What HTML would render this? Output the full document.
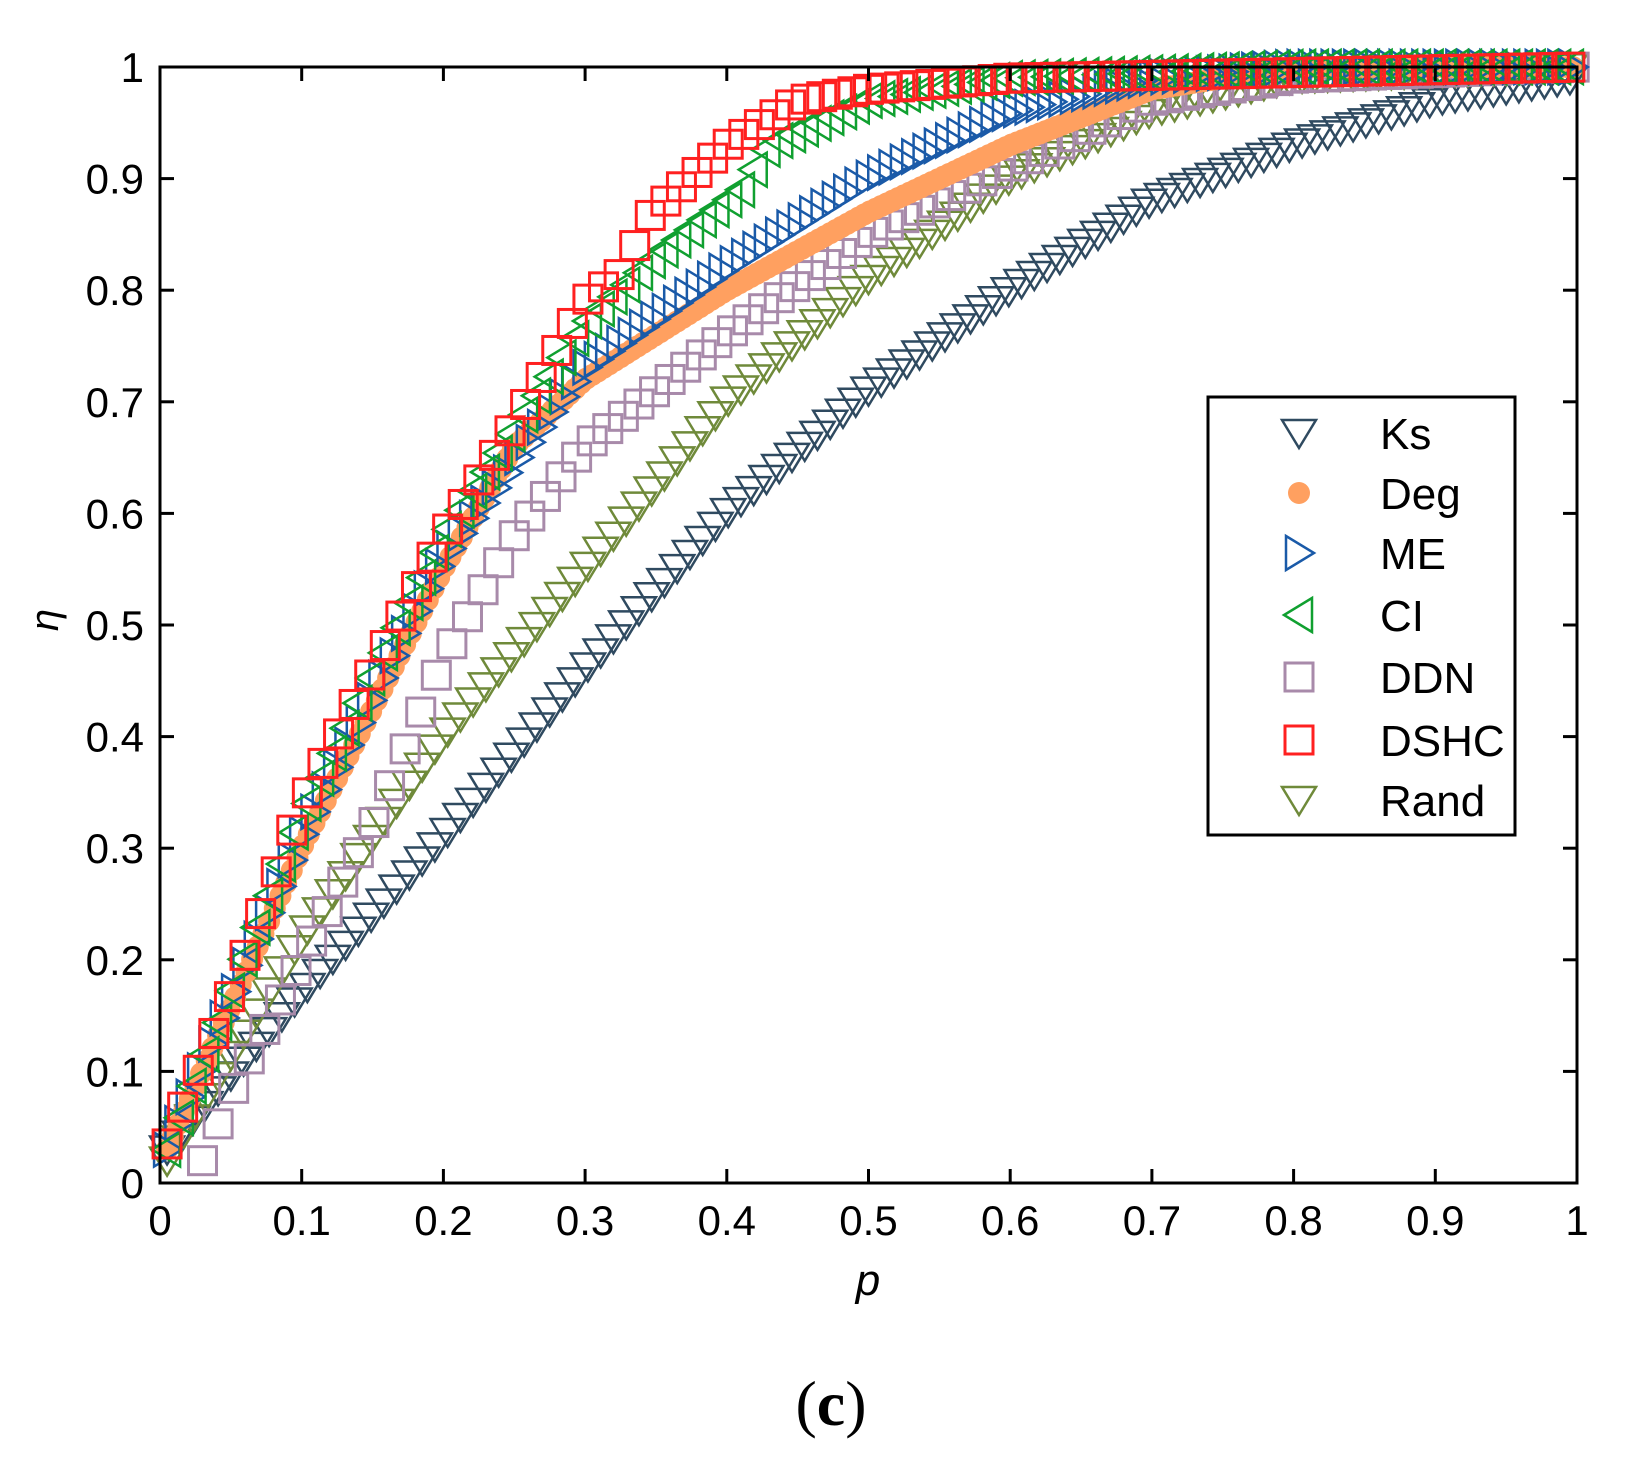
<!DOCTYPE html>
<html><head><meta charset="utf-8"><style>
html,body{margin:0;padding:0;background:#fff;}
svg{display:block;}
</style></head><body>
<svg id="s" width="1630" height="1462" xmlns="http://www.w3.org/2000/svg" font-family="Liberation Sans, Arial, sans-serif">
<rect width="1630" height="1462" fill="#fff"/>
<g id="data"></g>
<rect x="160" y="67" width="1417" height="1116" fill="none" stroke="#000" stroke-width="3"/>
<g id="ticks" stroke="#000" stroke-width="3"></g>
<g id="labels" font-size="42" fill="#000"></g>
<text x="868" y="1295" font-size="44" font-style="italic" text-anchor="middle">p</text>
<text x="0" y="0" font-size="40" font-style="italic" text-anchor="middle" transform="translate(58,620) rotate(-90)">η</text>
<text x="831" y="1425" font-size="64" style="font-family:'Liberation Serif',serif" text-anchor="middle">(<tspan font-weight="bold">c</tspan>)</text>
<rect x="1208" y="397" width="307" height="438" fill="#fff" stroke="#000" stroke-width="3"/>
<g id="legend" font-size="44"></g>
</svg>
<script>
const X0=160,X1=1577,Y0=1183,Y1=67;
const sx=p=>X0+p*(X1-X0), sy=v=>Y0-v*(Y0-Y1);
const NS="http://www.w3.org/2000/svg";
function el(parent,tag,attrs,txt){const e=document.createElementNS(NS,tag);for(const k in attrs)e.setAttribute(k,attrs[k]);if(txt!==undefined)e.textContent=txt;parent.appendChild(e);return e;}
const T=document.getElementById('ticks'),L=document.getElementById('labels');
for(let i=0;i<=10;i++){
 const x=sx(i/10),y=sy(i/10);
 if(i>0&&i<10){
  el(T,'line',{x1:x,y1:Y0,x2:x,y2:Y0-14});el(T,'line',{x1:x,y1:Y1,x2:x,y2:Y1+14});
  el(T,'line',{x1:X0,y1:y,x2:X0+14,y2:y});el(T,'line',{x1:X1,y1:y,x2:X1-14,y2:y});
 }
 const lab=i==0?'0':i==10?'1':'0.'+i;
 el(L,'text',{x:x,y:1235,'text-anchor':'middle'},lab);
 el(L,'text',{x:144,y:y+15,'text-anchor':'end'},lab);
}
function interp(pts,p){
 if(p<=pts[0][0])return pts[0][1];
 for(let i=1;i<pts.length;i++){if(p<=pts[i][0]){const a=pts[i-1],b=pts[i];return a[1]+(b[1]-a[1])*(p-a[0])/(b[0]-a[0]);}}
 return pts[pts.length-1][1];
}
const series=[
 {n:'Ks',c:'#2f4a60',m:'down',pts:[[0.005,0.03],[0.1,0.17],[0.2,0.31],[0.3,0.46],[0.4,0.6],[0.5,0.71],[0.6,0.8],[0.7,0.88],[0.8,0.93],[0.9,0.97],[1,0.99]],st:0.009,s0:0.005},
 {n:'Rand',c:'#6f8a3a',m:'down',pts:[[0.005,0.02],[0.1,0.22],[0.2,0.4],[0.3,0.55],[0.4,0.7],[0.5,0.81],[0.6,0.9],[0.7,0.96],[0.8,0.99],[1,1]],st:0.009,s0:0.005},
 {n:'DDN',c:'#a88aaa',m:'sq',pts:[[0.03,0.02],[0.05,0.08],[0.1,0.2],[0.15,0.32],[0.2,0.47],[0.25,0.58],[0.3,0.66],[0.4,0.76],[0.5,0.85],[0.6,0.91],[0.7,0.97],[0.8,0.99],[1,1]],st:0.011,s0:0.03},
 {n:'Deg',c:'#ffa060',m:'dot',pts:[[0.005,0.03],[0.1,0.3],[0.2,0.55],[0.25,0.66],[0.3,0.72],[0.4,0.8],[0.5,0.87],[0.6,0.93],[0.7,0.98],[0.8,1],[1,1]],st:0.004,s0:0.005},
 {n:'ME',c:'#1a5aa8',m:'right',pts:[[0.005,0.03],[0.1,0.31],[0.2,0.56],[0.3,0.73],[0.4,0.82],[0.5,0.9],[0.6,0.96],[0.7,0.99],[0.8,1],[1,1]],st:0.008,s0:0.005},
 {n:'CI',c:'#10a030',m:'left',pts:[[0.005,0.03],[0.1,0.33],[0.2,0.58],[0.3,0.77],[0.35,0.83],[0.41,0.89],[0.43,0.93],[0.5,0.97],[0.6,0.99],[0.8,1],[1,1]],st:0.009,s0:0.005},
 {n:'DSHC',c:'#ff2020',m:'sq',pts:[[0.005,0.035],[0.05,0.17],[0.1,0.34],[0.15,0.46],[0.2,0.58],[0.25,0.68],[0.3,0.79],[0.33,0.82],[0.34,0.86],[0.4,0.93],[0.45,0.97],[0.5,0.98],[0.6,0.99],[1,1]],st:0.011,s0:0.005}
];
function marker(g,m,x,y,c){
 if(m=='down')el(g,'polygon',{points:`${x-17},${y-13} ${x+17},${y-13} ${x},${y+15}`,fill:'none',stroke:c,'stroke-width':2.5});
 else if(m=='right')el(g,'polygon',{points:`${x-13},${y-17} ${x-13},${y+17} ${x+15},${y}`,fill:'none',stroke:c,'stroke-width':2.5});
 else if(m=='left')el(g,'polygon',{points:`${x+13},${y-17} ${x+13},${y+17} ${x-15},${y}`,fill:'none',stroke:c,'stroke-width':2.5});
 else if(m=='sq')el(g,'rect',{x:x-14,y:y-14,width:28,height:28,fill:'none',stroke:c,'stroke-width':3});
 else if(m=='dot')el(g,'circle',{cx:x,cy:y,r:11,fill:c});
}
const D=document.getElementById('data');
for(const s of series){
 const g=el(D,'g',{});
 for(let p=s.s0;p<=1.0001;p+=s.st){marker(g,s.m,sx(p),sy(interp(s.pts,p)),s.c);}
}
const LG=document.getElementById('legend');
const leg=[['Ks','#2f4a60','down'],['Deg','#ffa060','dot'],['ME','#1a5aa8','right'],['CI','#10a030','left'],['DDN','#a88aaa','sq'],['DSHC','#ff2020','sq'],['Rand','#6f8a3a','down']];
const ly=[433,493,553,615,677,740,800];
leg.forEach((l,i)=>{marker(LG,l[2],1299,ly[i],l[1]);el(LG,'text',{x:1380,y:ly[i]+16},l[0]);});
</script>
</body></html>
